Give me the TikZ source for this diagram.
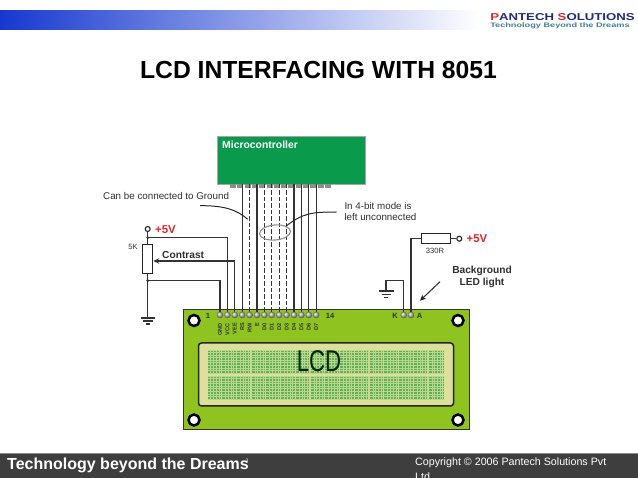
\documentclass[tikz,border=0pt]{standalone}
\usepackage{fontspec}
\setmainfont{Liberation Sans}
\usetikzlibrary{arrows.meta, shapes.geometric}
\definecolor{barblue}{HTML}{1638D0}
\definecolor{mcgreen}{HTML}{0A9A4C}
\definecolor{boardgreen}{HTML}{8FC31F}
\definecolor{screenbg}{HTML}{DCE09A}
\definecolor{dotgreen}{HTML}{5DB35A}
\definecolor{footgrey}{HTML}{3E3E3E}
\definecolor{labelgrey}{HTML}{2E2E2E}
\definecolor{plusred}{HTML}{D8282A}
\definecolor{logoblue}{HTML}{1F2A80}
\definecolor{logoteal}{HTML}{3F7F8F}
\begin{document}
\begin{tikzpicture}[x=1pt,y=-1pt]
	\tikzset{wire/.style={line width=1.1pt, draw=black!80},
	dashwire/.style={wire, dash pattern=on 4.5pt off 2pt},
	leader/.style={line width=1pt, draw=black!85},
	terminal/.style={circle, draw=black!85, fill=white, line width=1.1pt, minimum size=5pt, inner sep=0pt},
	junction/.style={circle, fill=black!85, minimum size=3pt, inner sep=0pt},
	resistor/.style={rectangle, draw=black!85, fill=white, line width=1.1pt, inner sep=0pt},
	hole/.style={circle, draw=black, fill=white, line width=2.5pt, minimum size=11pt, inner sep=0pt},
	lcdpin/.style={circle, ball color=black!30, minimum size=6.5pt, inner sep=0pt},
	mcpin/.style={rectangle, fill=black!45, minimum width=6pt, minimum height=3.5pt, inner sep=0pt},
	note/.style={text=labelgrey, font=\fontsize{9.8}{11.5}\selectfont, inner sep=0pt},
	boldnote/.style={text=labelgrey, font=\fontsize{10.2}{12}\selectfont\bfseries, inner sep=0pt},
	volt/.style={text=plusred, font=\fontsize{11.4}{13}\selectfont\bfseries, inner sep=0pt},
	pinname/.style={text=black!80, font=\fontsize{5.6}{6}\selectfont\bfseries, rotate=90, anchor=east, inner sep=0pt},
	boardtext/.style={text=black!80, font=\fontsize{7.6}{9}\selectfont\bfseries, inner sep=0pt}};

	\useasboundingbox (0, 0) rectangle (638, 478);

	% header and footer
	\shade[left color=barblue, right color=white] (0, 11) rectangle (480, 30);
	\node[inner sep=0pt, font=\fontsize{10}{10}\selectfont\bfseries, anchor=west, xscale=1.32] (logo) at (490, 17)
		{\textcolor{plusred}{P}\textcolor{logoblue}{ANTECH} \textcolor{plusred}{S}\textcolor{logoblue}{OLUTIONS}};
	\node[inner sep=0pt, font=\fontsize{6.5}{7}\selectfont\bfseries, text=logoteal, anchor=west, xscale=1.41] (slogan) at (490, 26)
		{Technology Beyond the Dreams};
	\node[inner sep=0pt, font=\fontsize{24.7}{26}\selectfont\bfseries] (title) at (318.5, 70) {LCD INTERFACING WITH 8051};

	\fill[footgrey] (0, 453) rectangle (638, 478);
	\draw[black!45, line width=0.8pt] (0, 453) -- (638, 453);
	\node[inner sep=0pt, text=white, anchor=west, font=\fontsize{16}{18}\selectfont\bfseries] (motto) at (7, 465) {Technology beyond the Dreams};
	\node[inner sep=0pt, text=white, font=\fontsize{5}{5}\selectfont] (page) at (247, 461) {3};
	\node[inner sep=0pt, text=white, anchor=west, font=\fontsize{10.7}{12}\selectfont] (copy) at (415, 463) {Copyright © 2006 Pantech Solutions Pvt};
	\node[inner sep=0pt, text=white, anchor=west, font=\fontsize{10.7}{12}\selectfont] (ltd) at (415, 477) {Ltd};

	% microcontroller
	\node[rectangle, fill=mcgreen, draw=black!35, line width=0.4pt, minimum width=148pt, minimum height=48.5pt, inner sep=0pt] (mc) at (291, 160) {};
	\node[anchor=west, inner sep=0pt, text=white, font=\fontsize{10.4}{12}\selectfont\bfseries] (mctext) at (222, 145) {Microcontroller};
	\foreach \x in {0, 1, ..., 13}{
		\node[mcpin] (m\x) at (233+7.3*\x, 186) {};
	}

	% display board
	\node[rectangle, fill=boardgreen, draw=black!80, line width=0.8pt, minimum width=286pt, minimum height=120pt, inner sep=0pt] (board) at (326, 369.5) {};
	\foreach \x/\y/\holename in {194/320.5/tl, 458/320.5/tr, 194/420/bl, 458/420/br}{
		\node[hole] (\holename) at (\x, \y) {};
	}
	\node[rectangle, rounded corners=3pt, fill=screenbg, draw=black!85, line width=1.5pt, minimum width=255pt, minimum height=63pt, inner sep=0pt] (screen) at (326, 374.5) {};
	\foreach \y in {350, 376}{
		\fill[dotgreen] (208, \y) rectangle (444, \y+23);
		\foreach \c in {0, 2.55, ..., 23}{
			\draw[screenbg!75!dotgreen, line width=0.5pt] (208, \y+\c) -- (444, \y+\c);
		}
		\foreach \c in {0, 1, ..., 15}{
			\draw[screenbg!85!dotgreen, line width=1.2pt] (208+14.75*\c+13.5, \y) -- (208+14.75*\c+13.5, \y+23);
			\foreach \d in {2.7, 5.4, 8.1, 10.8}{
				\draw[screenbg!75!dotgreen, line width=0.5pt] (208+14.75*\c+\d, \y) -- (208+14.75*\c+\d, \y+23);
			}
		}
	}
	\node[inner sep=0pt, text=black!85!green, xscale=0.74, font=\fontsize{30}{30}\selectfont] (lcdtext) at (319, 361) {LCD};

	% pins and names on the board
	\foreach \x/\pintext in {0/GND, 1/VCC, 2/VEE, 3/RS, 4/RW, 5/E, 6/D0, 7/D1, 8/D2, 9/D3, 10/D4, 11/D5, 12/D6, 13/D7}{
		\node[lcdpin] (p\x) at (220+7.4*\x, 315) {};
		\node[pinname] (n\x) at (220+7.4*\x, 323) {\pintext};
	}
	\node[lcdpin] (k) at (403.7, 315) {};
	\node[lcdpin] (a) at (411, 315) {};
	\node[boardtext] (one) at (208, 316) {1};
	\node[boardtext] (fourteen) at (330, 316) {14};
	\node[boardtext] (ktext) at (395, 316) {K};
	\node[boardtext] (atext) at (419.5, 316) {A};

	% data and control lines
	\foreach \x in {3, 5, 10, 11, 12, 13}{
		\draw[wire] (p\x.north) -- (p\x |- mc.south);
	}
	\foreach \x in {4, 6, 7, 8, 9}{
		\draw[dashwire] (p\x.north) -- (p\x |- mc.south);
	}

	% contrast circuit
	\node[terminal] (vcctop) at (147.7, 229) {};
	\node[volt, anchor=west] (plusleft) at (155, 230) {+5V};
	\node[resistor, minimum width=10pt, minimum height=28.5pt] (pot) at (147.7, 259) {};
	\node[note, font=\fontsize{7.6}{9}\selectfont] (fivek) at (133, 247) {5K};
	\node[boldnote, anchor=west] (contrast) at (162, 255) {Contrast};
	\node[junction] (jtop) at (147.7, 237.7) {};
	\node[junction] (jbot) at (147.7, 280.7) {};
	\coordinate (gndleft) at (147.7, 318);
	\draw[wire] (vcctop) -- (pot) -- (gndleft);
	\draw[wire] (jtop) -| (p1.north);
	\draw[wire] (jbot) -| (p0.north);
	\draw[wire, -{Stealth[length=6pt, width=5.5pt]}] (p2.north) |- (pot.east |- 0, 261);
	\draw[wire] (140.5, 318) -- (155, 318) (143, 321) -- (152.5, 321) (145.5, 324) -- (150, 324);

	% backlight circuit
	\node[resistor, minimum width=29pt, minimum height=10pt] (rled) at (436.2, 238.7) {};
	\node[terminal] (vccled) at (459.3, 238.7) {};
	\node[volt, anchor=west] (plusright) at (466.5, 239) {+5V};
	\node[note, font=\fontsize{7.6}{9}\selectfont] (rtext) at (435, 250.5) {330R};
	\draw[wire] (vccled) -- (rled) -- (rled.west -| a) -- (a.north);
	\coordinate (gndled) at (386, 291);
	\draw[wire] (k.north) |- (386, 280.7) -- (gndled);
	\draw[wire] (378.5, 291) -- (393.5, 291) (381.5, 294.3) -- (390.5, 294.3) (384, 297.5) -- (388, 297.5);
	\node[boldnote, align=center] (backtext) at (482, 277) {Background\\LED light};
	\coordinate (arrowstart) at (440, 281.7);
	\coordinate (arrowend) at (420, 300.7);
	\draw[leader, -{Stealth[length=6pt, width=5.5pt]}] (arrowstart) -- (arrowend);

	% notes
	\node[note, anchor=west] (gndtext) at (103, 195.5) {Can be connected to Ground};
	\node[note, anchor=north west, align=left] (modetext) at (344.3, 202) {In 4-bit mode is\\left unconnected};
	\node[draw=black!45, line width=1.1pt, ellipse, minimum width=31pt, minimum height=15pt, inner sep=0pt, rotate=5] (ring) at (275, 232.5) {};
	\coordinate (gndstart) at (200, 205.7);
	\coordinate (gndend) at (247.7, 219.3);
	\coordinate (modestart) at (336.7, 212);
	\draw[leader] (gndstart) .. controls (225, 205.5) and (237, 210) .. (gndend);
	\draw[leader] (modestart) .. controls (312, 212) and (303, 213) .. (ring.25);
\end{tikzpicture}
\end{document}
